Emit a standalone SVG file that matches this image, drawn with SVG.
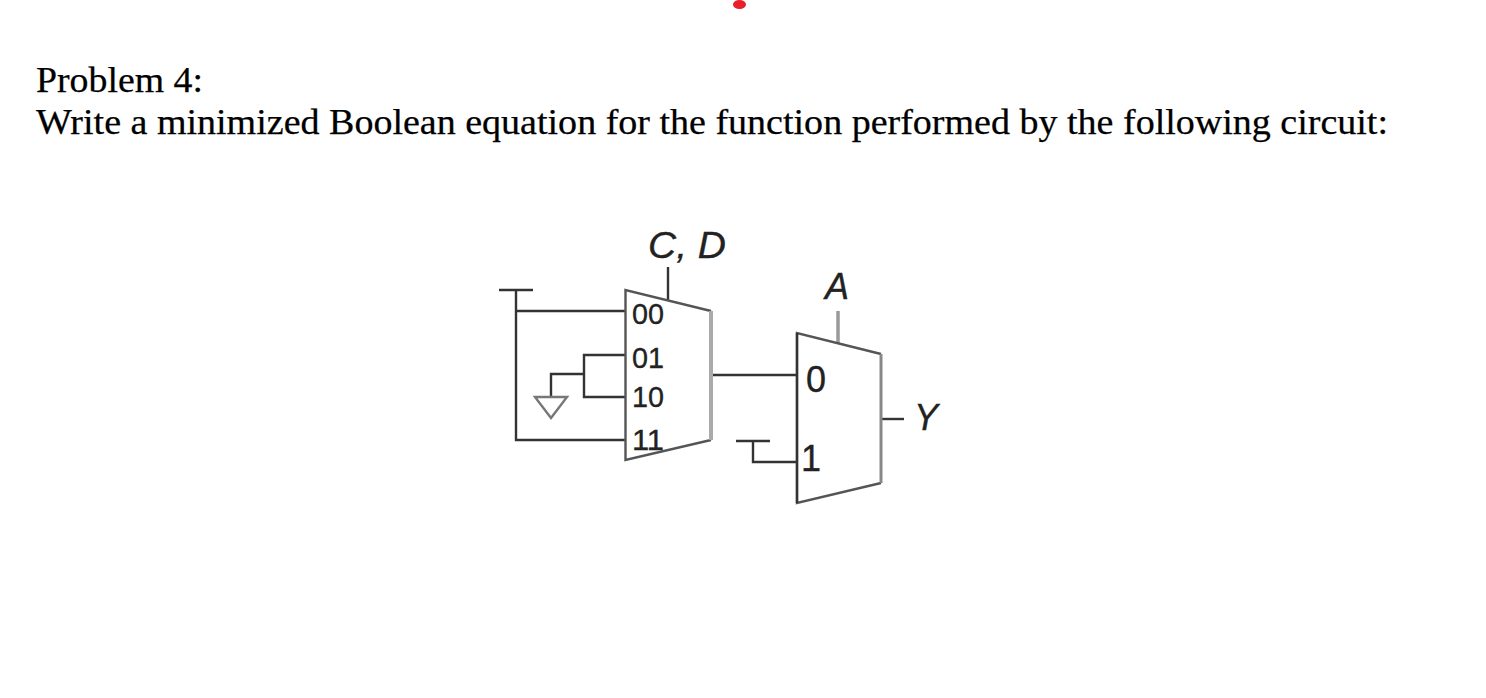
<svg xmlns="http://www.w3.org/2000/svg" width="1486" height="698" viewBox="0 0 1486 698">
<style>
.t{font-family:"Liberation Serif",serif;font-size:35px;fill:#000;stroke:#000;stroke-width:.25}
.l{font-family:"Liberation Sans",Arial,sans-serif;font-size:30px;fill:#222;stroke:#222;stroke-width:.35}
.b{font-size:36px}
.i{font-style:italic}
.w{fill:none;stroke:#333;stroke-width:2.400}
.m{fill:none;stroke:#555;stroke-width:2.400}
.r{fill:none;stroke:#aaa;stroke-width:4}
</style>
<rect width="1486" height="698" fill="#fff"/>
<ellipse id="dot" cx="739.5" cy="4.5" rx="6.5" ry="4.5" fill="#e8202a"/>
<g id="title">
<text class="t" x="36" y="92" textLength="167" lengthAdjust="spacingAndGlyphs">Problem 4:</text>
<text class="t" x="36" y="134" textLength="1352" lengthAdjust="spacingAndGlyphs">Write a minimized Boolean equation for the function performed by the following circuit:</text>
</g>
<g id="connectors">
<path class="w" d="M499 290H533M516 290V440H626M516 311H626"/>
<path class="w" d="M626 355H584V397H626M584 374H551V397"/>
<path class="w" d="M668 267V301"/>
<path class="w" d="M711 375H797"/>
<path class="w" d="M736 441H770M753 441V462H797"/>
<path class="w" d="M881 419H904"/>
<path d="M838 311V343" fill="none" stroke="#999" stroke-width="3.500"/>
</g>
<g id="ground">
<path d="M535 397H567L551 418Z" fill="none" stroke="#777" stroke-width="2.400"/>
</g>
<g id="mux4">
<path class="m" d="M711 311L625.500 290V460L711 440"/>
<path class="r" d="M711 311V440"/>
<text class="l" x="632" y="324" textLength="32" lengthAdjust="spacingAndGlyphs">00</text>
<text class="l" x="632" y="368" textLength="32" lengthAdjust="spacingAndGlyphs">01</text>
<text class="l" x="632" y="407" textLength="32" lengthAdjust="spacingAndGlyphs">10</text>
<text class="l" x="632" y="450" textLength="32" lengthAdjust="spacingAndGlyphs">11</text>
<text class="l b i" x="648" y="258" textLength="78" lengthAdjust="spacingAndGlyphs">C, D</text>
</g>
<g id="mux2">
<path class="m" d="M881 354L797 333V503L881 483"/>
<path class="w" d="M797 333V503"/>
<path d="M881 354V483" fill="none" stroke="#888" stroke-width="3"/>
<text class="l b" x="806" y="392">0</text>
<text class="l b" x="801" y="471">1</text>
<text class="l b i" x="825" y="299">A</text>
<text class="l b i" x="914" y="430">Y</text>
</g>
</svg>
